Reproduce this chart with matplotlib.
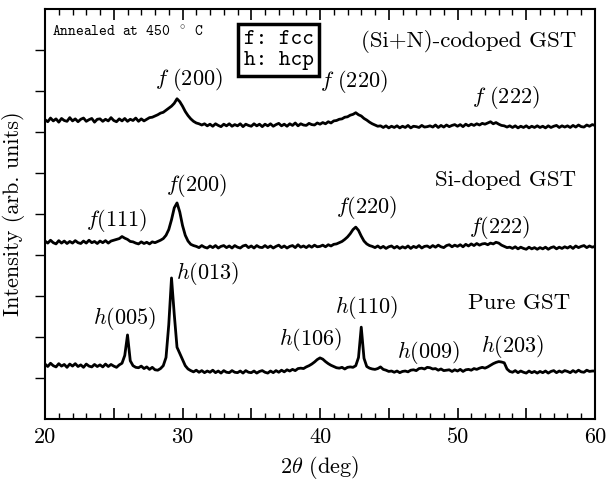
import numpy as np
import matplotlib
matplotlib.use("Agg")
import matplotlib.pyplot as plt
from matplotlib.ticker import MultipleLocator

plt.rcParams['mathtext.fontset'] = 'cm'
plt.rcParams['font.family'] = ['cmr10', 'DejaVu Serif']
plt.rcParams['axes.formatter.use_mathtext'] = True

two_theta = np.round(np.arange(20.0, 60.0001, 0.2), 1)

codoped = [
    7.30, 7.25, 7.34, 7.27, 7.32, 7.24, 7.33, 7.28, 7.26, 7.35,
    7.27, 7.32, 7.25, 7.31, 7.34, 7.26, 7.30, 7.33, 7.24, 7.31,
    7.32, 7.26, 7.31, 7.27, 7.35, 7.28, 7.25, 7.32, 7.27, 7.33,
    7.26, 7.31, 7.28, 7.34, 7.26, 7.32, 7.27, 7.31, 7.35, 7.36,
    7.39, 7.42, 7.46, 7.48, 7.53, 7.58, 7.63, 7.70, 7.81, 7.74,
    7.63, 7.50, 7.40, 7.32, 7.26, 7.22, 7.20, 7.17, 7.20, 7.15,
    7.19, 7.14, 7.20, 7.16, 7.13, 7.19, 7.15, 7.20, 7.14, 7.18,
    7.15, 7.20, 7.13, 7.19, 7.16, 7.14, 7.20, 7.15, 7.19, 7.13,
    7.19, 7.15, 7.20, 7.14, 7.18, 7.21, 7.15, 7.19, 7.14, 7.20,
    7.16, 7.22, 7.15, 7.20, 7.17, 7.16, 7.21, 7.18, 7.17, 7.22,
    7.19, 7.23, 7.20, 7.25, 7.22, 7.27, 7.28, 7.31, 7.32, 7.36,
    7.37, 7.41, 7.43, 7.47, 7.42, 7.39, 7.33, 7.29, 7.24, 7.20,
    7.17, 7.14, 7.15, 7.11, 7.15, 7.10, 7.14, 7.11, 7.15, 7.10,
    7.14, 7.11, 7.16, 7.10, 7.14, 7.13, 7.11, 7.16, 7.12, 7.13,
    7.15, 7.12, 7.17, 7.11, 7.16, 7.12, 7.17, 7.13, 7.16, 7.18,
    7.14, 7.18, 7.13, 7.19, 7.15, 7.19, 7.16, 7.20, 7.17, 7.21,
    7.19, 7.22, 7.25, 7.20, 7.23, 7.19, 7.16, 7.15, 7.12, 7.15,
    7.11, 7.15, 7.10, 7.14, 7.11, 7.15, 7.10, 7.14, 7.11, 7.15,
    7.11, 7.14, 7.10, 7.15, 7.11, 7.14, 7.16, 7.11, 7.15, 7.12,
    7.15, 7.11, 7.16, 7.12, 7.17, 7.13, 7.12, 7.17, 7.14, 7.18,
    7.16,
]

si_doped = [
    4.34, 4.29, 4.36, 4.30, 4.27, 4.35, 4.29, 4.34, 4.28, 4.33,
    4.29, 4.35, 4.30, 4.28, 4.34, 4.29, 4.36, 4.30, 4.33, 4.28,
    4.34, 4.30, 4.35, 4.29, 4.34, 4.36, 4.38, 4.40, 4.45, 4.41,
    4.38, 4.33, 4.32, 4.29, 4.27, 4.32, 4.28, 4.31, 4.27, 4.32,
    4.30, 4.33, 4.36, 4.40, 4.48, 4.62, 4.86, 5.15, 5.27, 5.05,
    4.72, 4.48, 4.34, 4.26, 4.23, 4.21, 4.18, 4.23, 4.19, 4.17,
    4.22, 4.18, 4.23, 4.17, 4.21, 4.23, 4.18, 4.22, 4.17, 4.23,
    4.19, 4.17, 4.22, 4.24, 4.18, 4.22, 4.17, 4.23, 4.19, 4.18,
    4.23, 4.18, 4.22, 4.17, 4.21, 4.24, 4.18, 4.22, 4.17, 4.21,
    4.23, 4.18, 4.25, 4.19, 4.22, 4.18, 4.23, 4.19, 4.24, 4.20,
    4.21, 4.24, 4.20, 4.25, 4.22, 4.26, 4.27, 4.30, 4.33, 4.38,
    4.44, 4.52, 4.62, 4.68, 4.60, 4.46, 4.34, 4.27, 4.23, 4.21,
    4.18, 4.22, 4.17, 4.21, 4.16, 4.20, 4.22, 4.17, 4.21, 4.16,
    4.20, 4.17, 4.22, 4.16, 4.21, 4.18, 4.23, 4.17, 4.21, 4.22,
    4.18, 4.23, 4.19, 4.24, 4.20, 4.18, 4.23, 4.25, 4.20, 4.24,
    4.21, 4.25, 4.20, 4.26, 4.22, 4.27, 4.23, 4.28, 4.24, 4.27,
    4.28, 4.25, 4.29, 4.27, 4.31, 4.29, 4.24, 4.21, 4.18, 4.19,
    4.16, 4.20, 4.15, 4.19, 4.16, 4.14, 4.19, 4.15, 4.18, 4.14,
    4.18, 4.15, 4.19, 4.14, 4.18, 4.20, 4.15, 4.19, 4.16, 4.20,
    4.17, 4.21, 4.16, 4.22, 4.18, 4.21, 4.23, 4.18, 4.22, 4.19,
    4.21,
]

pure = [
    1.34, 1.28, 1.36, 1.30, 1.27, 1.35, 1.29, 1.33, 1.26, 1.34,
    1.29, 1.35, 1.28, 1.32, 1.26, 1.34, 1.29, 1.27, 1.33, 1.28,
    1.32, 1.27, 1.34, 1.28, 1.33, 1.29, 1.26, 1.32, 1.36, 1.55,
    2.05, 1.42, 1.30, 1.26, 1.25, 1.29, 1.23, 1.27, 1.21, 1.26,
    1.20, 1.19, 1.23, 1.30, 1.50, 2.30, 3.44, 2.55, 1.75, 1.60,
    1.45, 1.30, 1.22, 1.18, 1.15, 1.19, 1.14, 1.18, 1.13, 1.17,
    1.14, 1.19, 1.13, 1.17, 1.12, 1.18, 1.14, 1.13, 1.18, 1.14,
    1.13, 1.17, 1.12, 1.18, 1.14, 1.13, 1.17, 1.12, 1.16, 1.18,
    1.14, 1.12, 1.17, 1.13, 1.18, 1.14, 1.19, 1.15, 1.20, 1.17,
    1.21, 1.18, 1.23, 1.24, 1.23, 1.27, 1.30, 1.34, 1.39, 1.45,
    1.49, 1.46, 1.40, 1.35, 1.31, 1.28, 1.25, 1.24, 1.26, 1.22,
    1.26, 1.27, 1.26, 1.30, 1.50, 2.24, 1.48, 1.28, 1.24, 1.22,
    1.21, 1.23, 1.27, 1.21, 1.19, 1.16, 1.17, 1.14, 1.17, 1.13,
    1.16, 1.17, 1.15, 1.19, 1.20, 1.18, 1.23, 1.24, 1.22, 1.26,
    1.25, 1.22, 1.23, 1.19, 1.22, 1.18, 1.19, 1.20, 1.16, 1.20,
    1.17, 1.21, 1.16, 1.20, 1.21, 1.19, 1.23, 1.21, 1.24, 1.26,
    1.24, 1.27, 1.31, 1.35, 1.38, 1.40, 1.39, 1.37, 1.22, 1.16,
    1.14, 1.18, 1.13, 1.17, 1.14, 1.12, 1.17, 1.13, 1.16, 1.12,
    1.16, 1.13, 1.17, 1.12, 1.16, 1.18, 1.13, 1.17, 1.14, 1.18,
    1.16, 1.13, 1.18, 1.14, 1.19, 1.15, 1.14, 1.19, 1.16, 1.17,
    1.17,
]

series_names = ["(Si+N)-codoped GST", "Si-doped GST", "Pure GST"]
series_pos = [(50.8, 9.2), (53.5, 5.83), (54.5, 2.83)]

peak_labels = [r"$f\ (200)$", r"$f\ (220)$", r"$f\ (222)$",
               r"$f(111)$", r"$f(200)$", r"$f(220)$", r"$f(222)$",
               r"$h(005)$", r"$h(013)$", r"$h(106)$", r"$h(110)$",
               r"$h(009)$", r"$h(203)$"]
peak_pos = [(30.5, 8.27), (42.5, 8.22), (53.5, 7.85),
            (25.2, 4.85), (31.0, 5.70), (43.4, 5.15), (53.1, 4.68),
            (25.8, 2.46), (31.8, 3.56), (39.3, 1.93), (43.4, 2.71),
            (47.9, 1.63), (54.0, 1.76)]

fig = plt.figure(figsize=(6.1, 4.88), dpi=100)
ax = fig.add_axes([0.0738, 0.1414, 0.9016, 0.8402])

for ys in (codoped, si_doped, pure):
    ax.plot(two_theta, ys, color='black', lw=2.0)

ax.set_xlim(20, 60)
ax.set_ylim(0, 10)
ax.xaxis.set_minor_locator(MultipleLocator(1))
ax.set_xticks([20, 25, 30, 35, 40, 45, 50, 55, 60],
              labels=['20', '', '30', '', '40', '', '50', '', '60'])
ax.set_yticks(np.arange(1, 10))
ax.set_yticklabels([])
ax.tick_params(axis='x', which='major', direction='in', length=8, width=1.2,
               top=True, labelsize=16, pad=6)
ax.tick_params(axis='x', which='minor', direction='in', length=4, width=1.0, top=True)
ax.tick_params(axis='y', which='major', direction='out', length=7, width=1.0,
               left=True, right=False)
for s in ax.spines.values():
    s.set_linewidth(1.5)

ax.set_xlabel(r"$2\theta$ (deg)", fontsize=16, labelpad=5)
ax.set_ylabel("Intensity (arb. units)", fontsize=16, labelpad=4)

for name, (x, y) in zip(series_names, series_pos):
    ax.text(x, y, name, fontsize=16.5, ha='center', va='center')
for lab, (x, y) in zip(peak_labels, peak_pos):
    ax.text(x, y, lab, fontsize=16, ha='center', va='center')

ax.text(20.5, 9.41, r"Annealed at 450 $^\circ$ C", family='cmtt10',
        fontsize=10.7, ha='left', va='center')
ax.text(37.0, 9.0, "f: fcc\nh: hcp", family='cmtt10',
        fontsize=16, ha='center', va='center', linespacing=1.2,
        bbox=dict(boxstyle='square,pad=0.25', fc='white', ec='black', lw=2.5))

fig.savefig("out.png", dpi=100)
